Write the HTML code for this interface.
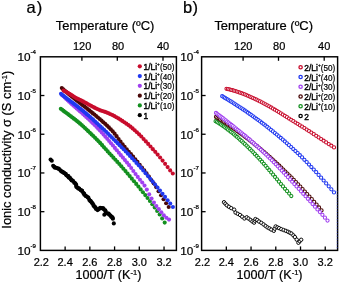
<!DOCTYPE html>
<html><head><meta charset="utf-8"><style>
html,body{margin:0;padding:0;background:#fff;}
svg{display:block;will-change:transform;}
text{font-family:"Liberation Sans",sans-serif;fill:#000;stroke:#000;stroke-width:0.22px;}
</style></head><body>
<svg width="340" height="284" viewBox="0 0 340 284">
<rect width="340" height="284" fill="#fff"/>
<rect x="40.40" y="56.80" width="136.00" height="193.60" fill="none" stroke="#000" stroke-width="1.45"/>
<text x="41.30" y="265.9" font-size="11" text-anchor="middle">2.2</text>
<line x1="65.13" y1="250.40" x2="65.13" y2="246.40" stroke="#000" stroke-width="1.3"/>
<text x="65.13" y="265.9" font-size="11" text-anchor="middle">2.4</text>
<line x1="89.85" y1="250.40" x2="89.85" y2="246.40" stroke="#000" stroke-width="1.3"/>
<text x="89.85" y="265.9" font-size="11" text-anchor="middle">2.6</text>
<line x1="114.58" y1="250.40" x2="114.58" y2="246.40" stroke="#000" stroke-width="1.3"/>
<text x="114.58" y="265.9" font-size="11" text-anchor="middle">2.8</text>
<line x1="139.31" y1="250.40" x2="139.31" y2="246.40" stroke="#000" stroke-width="1.3"/>
<text x="139.31" y="265.9" font-size="11" text-anchor="middle">3.0</text>
<line x1="164.04" y1="250.40" x2="164.04" y2="246.40" stroke="#000" stroke-width="1.3"/>
<text x="164.04" y="265.9" font-size="11" text-anchor="middle">3.2</text>
<line x1="81.90" y1="56.80" x2="81.90" y2="60.80" stroke="#000" stroke-width="1.3"/>
<text x="82.10" y="50.4" font-size="11" text-anchor="middle">120</text>
<line x1="117.30" y1="56.80" x2="117.30" y2="60.80" stroke="#000" stroke-width="1.3"/>
<text x="118.00" y="50.4" font-size="11" text-anchor="middle">80</text>
<line x1="163.00" y1="56.80" x2="163.00" y2="60.80" stroke="#000" stroke-width="1.3"/>
<text x="163.00" y="50.4" font-size="11" text-anchor="middle">40</text>
<text x="36.00" y="61.10" font-size="11.8" text-anchor="end">10<tspan font-size="6.1" dy="-6.8">-4</tspan></text>
<line x1="40.40" y1="95.52" x2="44.40" y2="95.52" stroke="#000" stroke-width="1.3"/>
<text x="36.00" y="99.82" font-size="11.8" text-anchor="end">10<tspan font-size="6.1" dy="-6.8">-5</tspan></text>
<line x1="40.40" y1="134.24" x2="44.40" y2="134.24" stroke="#000" stroke-width="1.3"/>
<text x="36.00" y="138.54" font-size="11.8" text-anchor="end">10<tspan font-size="6.1" dy="-6.8">-6</tspan></text>
<line x1="40.40" y1="172.96" x2="44.40" y2="172.96" stroke="#000" stroke-width="1.3"/>
<text x="36.00" y="177.26" font-size="11.8" text-anchor="end">10<tspan font-size="6.1" dy="-6.8">-7</tspan></text>
<line x1="40.40" y1="211.68" x2="44.40" y2="211.68" stroke="#000" stroke-width="1.3"/>
<text x="36.00" y="215.98" font-size="11.8" text-anchor="end">10<tspan font-size="6.1" dy="-6.8">-8</tspan></text>
<text x="36.00" y="254.70" font-size="11.8" text-anchor="end">10<tspan font-size="6.1" dy="-6.8">-9</tspan></text>
<text x="26.40" y="13.2" font-size="16.5">a<tspan dx="1.2">)</tspan></text>
<text x="55.80" y="29.6" font-size="12.9">Temperature (ºC)</text>
<text x="75.40" y="279.4" font-size="12.6">1000/T (K<tspan font-size="7.5" dy="-4.5">-1</tspan><tspan dy="4.5">)</tspan></text>
<text transform="translate(11.20,228.7) rotate(-90)" font-size="12.9">Ionic conductivity σ (S cm<tspan font-size="7.5" dy="-4.5">-1</tspan><tspan dy="4.5">)</tspan></text>
<circle cx="139.80" cy="66.35" r="2.1" fill="#c80c2c"/>
<text x="143.50" y="69.95" font-size="8.15" style="stroke-width:0.2px"><tspan font-size="8.4" style="stroke-width:0.4px">1/Li</tspan><tspan font-size="4.8" dy="-3.6" dx="0.1">+</tspan><tspan dy="3.6" dx="0.1">(50)</tspan></text>
<circle cx="139.80" cy="76.11" r="2.1" fill="#2038f0"/>
<text x="143.50" y="79.71" font-size="8.15" style="stroke-width:0.2px"><tspan font-size="8.4" style="stroke-width:0.4px">1/Li</tspan><tspan font-size="4.8" dy="-3.6" dx="0.1">+</tspan><tspan dy="3.6" dx="0.1">(40)</tspan></text>
<circle cx="139.80" cy="85.87" r="2.1" fill="#a040f0"/>
<text x="143.50" y="89.47" font-size="8.15" style="stroke-width:0.2px"><tspan font-size="8.4" style="stroke-width:0.4px">1/Li</tspan><tspan font-size="4.8" dy="-3.6" dx="0.1">+</tspan><tspan dy="3.6" dx="0.1">(30)</tspan></text>
<circle cx="139.80" cy="95.63" r="2.1" fill="#4a0808"/>
<text x="143.50" y="99.23" font-size="8.15" style="stroke-width:0.2px"><tspan font-size="8.4" style="stroke-width:0.4px">1/Li</tspan><tspan font-size="4.8" dy="-3.6" dx="0.1">+</tspan><tspan dy="3.6" dx="0.1">(20)</tspan></text>
<circle cx="139.80" cy="105.39" r="2.1" fill="#149020"/>
<text x="143.50" y="108.99" font-size="8.15" style="stroke-width:0.2px"><tspan font-size="8.4" style="stroke-width:0.4px">1/Li</tspan><tspan font-size="4.8" dy="-3.6" dx="0.1">+</tspan><tspan dy="3.6" dx="0.1">(10)</tspan></text>
<circle cx="139.80" cy="115.15" r="2.1" fill="#000000"/>
<text x="143.50" y="118.75" font-size="8.4" style="stroke-width:0.4px">1</text>
<rect x="201.60" y="56.80" width="136.00" height="193.60" fill="none" stroke="#000" stroke-width="1.45"/>
<text x="202.50" y="265.9" font-size="11" text-anchor="middle">2.2</text>
<line x1="226.33" y1="250.40" x2="226.33" y2="246.40" stroke="#000" stroke-width="1.3"/>
<text x="226.33" y="265.9" font-size="11" text-anchor="middle">2.4</text>
<line x1="251.05" y1="250.40" x2="251.05" y2="246.40" stroke="#000" stroke-width="1.3"/>
<text x="251.05" y="265.9" font-size="11" text-anchor="middle">2.6</text>
<line x1="275.78" y1="250.40" x2="275.78" y2="246.40" stroke="#000" stroke-width="1.3"/>
<text x="275.78" y="265.9" font-size="11" text-anchor="middle">2.8</text>
<line x1="300.51" y1="250.40" x2="300.51" y2="246.40" stroke="#000" stroke-width="1.3"/>
<text x="300.51" y="265.9" font-size="11" text-anchor="middle">3.0</text>
<line x1="325.24" y1="250.40" x2="325.24" y2="246.40" stroke="#000" stroke-width="1.3"/>
<text x="325.24" y="265.9" font-size="11" text-anchor="middle">3.2</text>
<line x1="243.10" y1="56.80" x2="243.10" y2="60.80" stroke="#000" stroke-width="1.3"/>
<text x="243.30" y="50.4" font-size="11" text-anchor="middle">120</text>
<line x1="278.50" y1="56.80" x2="278.50" y2="60.80" stroke="#000" stroke-width="1.3"/>
<text x="279.20" y="50.4" font-size="11" text-anchor="middle">80</text>
<line x1="324.20" y1="56.80" x2="324.20" y2="60.80" stroke="#000" stroke-width="1.3"/>
<text x="324.20" y="50.4" font-size="11" text-anchor="middle">40</text>
<text x="198.80" y="61.10" font-size="11.8" text-anchor="end">10<tspan font-size="6.1" dy="-6.8">-4</tspan></text>
<line x1="201.60" y1="95.52" x2="205.60" y2="95.52" stroke="#000" stroke-width="1.3"/>
<text x="198.80" y="99.82" font-size="11.8" text-anchor="end">10<tspan font-size="6.1" dy="-6.8">-5</tspan></text>
<line x1="201.60" y1="134.24" x2="205.60" y2="134.24" stroke="#000" stroke-width="1.3"/>
<text x="198.80" y="138.54" font-size="11.8" text-anchor="end">10<tspan font-size="6.1" dy="-6.8">-6</tspan></text>
<line x1="201.60" y1="172.96" x2="205.60" y2="172.96" stroke="#000" stroke-width="1.3"/>
<text x="198.80" y="177.26" font-size="11.8" text-anchor="end">10<tspan font-size="6.1" dy="-6.8">-7</tspan></text>
<line x1="201.60" y1="211.68" x2="205.60" y2="211.68" stroke="#000" stroke-width="1.3"/>
<text x="198.80" y="215.98" font-size="11.8" text-anchor="end">10<tspan font-size="6.1" dy="-6.8">-8</tspan></text>
<text x="198.80" y="254.70" font-size="11.8" text-anchor="end">10<tspan font-size="6.1" dy="-6.8">-9</tspan></text>
<text x="183.00" y="13.2" font-size="16.5">b<tspan dx="0.2">)</tspan></text>
<text x="214.40" y="29.6" font-size="12.9">Temperature (ºC)</text>
<text x="236.60" y="279.4" font-size="12.6">1000/T (K<tspan font-size="7.5" dy="-4.5">-1</tspan><tspan dy="4.5">)</tspan></text>
<circle cx="300.60" cy="67.25" r="1.65" fill="#fff" stroke="#c80c2c" stroke-width="1.3"/>
<text x="304.30" y="70.85" font-size="8.15" style="stroke-width:0.2px"><tspan font-size="8.4" style="stroke-width:0.4px">2/Li</tspan><tspan font-size="4.8" dy="-3.6" dx="0.1">+</tspan><tspan dy="3.6" dx="0.1">(50)</tspan></text>
<circle cx="300.60" cy="77.01" r="1.65" fill="#fff" stroke="#2038f0" stroke-width="1.3"/>
<text x="304.30" y="80.61" font-size="8.15" style="stroke-width:0.2px"><tspan font-size="8.4" style="stroke-width:0.4px">2/Li</tspan><tspan font-size="4.8" dy="-3.6" dx="0.1">+</tspan><tspan dy="3.6" dx="0.1">(40)</tspan></text>
<circle cx="300.60" cy="86.77" r="1.65" fill="#fff" stroke="#a040f0" stroke-width="1.3"/>
<text x="304.30" y="90.37" font-size="8.15" style="stroke-width:0.2px"><tspan font-size="8.4" style="stroke-width:0.4px">2/Li</tspan><tspan font-size="4.8" dy="-3.6" dx="0.1">+</tspan><tspan dy="3.6" dx="0.1">(30)</tspan></text>
<circle cx="300.60" cy="96.53" r="1.65" fill="#fff" stroke="#4a0808" stroke-width="1.3"/>
<text x="304.30" y="100.13" font-size="8.15" style="stroke-width:0.2px"><tspan font-size="8.4" style="stroke-width:0.4px">2/Li</tspan><tspan font-size="4.8" dy="-3.6" dx="0.1">+</tspan><tspan dy="3.6" dx="0.1">(20)</tspan></text>
<circle cx="300.60" cy="106.29" r="1.65" fill="#fff" stroke="#149020" stroke-width="1.3"/>
<text x="304.30" y="109.89" font-size="8.15" style="stroke-width:0.2px"><tspan font-size="8.4" style="stroke-width:0.4px">2/Li</tspan><tspan font-size="4.8" dy="-3.6" dx="0.1">+</tspan><tspan dy="3.6" dx="0.1">(10)</tspan></text>
<circle cx="300.60" cy="116.05" r="1.65" fill="#fff" stroke="#000000" stroke-width="1.3"/>
<text x="304.30" y="119.65" font-size="8.4" style="stroke-width:0.4px">2</text>
<circle cx="60.80" cy="108.77" r="2.05" fill="#149020"/>
<circle cx="62.20" cy="109.82" r="2.05" fill="#149020"/>
<circle cx="63.61" cy="110.88" r="2.05" fill="#149020"/>
<circle cx="65.04" cy="111.95" r="2.05" fill="#149020"/>
<circle cx="66.48" cy="113.03" r="2.05" fill="#149020"/>
<circle cx="67.94" cy="114.12" r="2.05" fill="#149020"/>
<circle cx="69.41" cy="115.22" r="2.05" fill="#149020"/>
<circle cx="70.89" cy="116.35" r="2.05" fill="#149020"/>
<circle cx="72.39" cy="117.49" r="2.05" fill="#149020"/>
<circle cx="73.91" cy="118.66" r="2.05" fill="#149020"/>
<circle cx="75.44" cy="119.86" r="2.05" fill="#149020"/>
<circle cx="76.98" cy="121.09" r="2.05" fill="#149020"/>
<circle cx="78.54" cy="122.35" r="2.05" fill="#149020"/>
<circle cx="80.12" cy="123.67" r="2.05" fill="#149020"/>
<circle cx="81.71" cy="125.05" r="2.05" fill="#149020"/>
<circle cx="83.32" cy="126.49" r="2.05" fill="#149020"/>
<circle cx="84.94" cy="127.98" r="2.05" fill="#149020"/>
<circle cx="86.58" cy="129.53" r="2.05" fill="#149020"/>
<circle cx="88.24" cy="131.14" r="2.05" fill="#149020"/>
<circle cx="89.92" cy="132.76" r="2.05" fill="#149020"/>
<circle cx="91.61" cy="134.38" r="2.05" fill="#149020"/>
<circle cx="93.33" cy="136.01" r="2.05" fill="#149020"/>
<circle cx="95.06" cy="137.70" r="2.05" fill="#149020"/>
<circle cx="96.81" cy="139.45" r="2.05" fill="#149020"/>
<circle cx="98.57" cy="141.26" r="2.05" fill="#149020"/>
<circle cx="100.36" cy="143.15" r="2.05" fill="#149020"/>
<circle cx="102.17" cy="145.14" r="2.05" fill="#149020"/>
<circle cx="103.99" cy="147.21" r="2.05" fill="#149020"/>
<circle cx="105.84" cy="149.28" r="2.05" fill="#149020"/>
<circle cx="107.70" cy="151.38" r="2.05" fill="#149020"/>
<circle cx="109.59" cy="153.49" r="2.05" fill="#149020"/>
<circle cx="111.50" cy="155.57" r="2.05" fill="#149020"/>
<circle cx="113.43" cy="157.64" r="2.05" fill="#149020"/>
<circle cx="115.38" cy="159.74" r="2.05" fill="#149020"/>
<circle cx="117.36" cy="161.88" r="2.05" fill="#149020"/>
<circle cx="119.35" cy="164.07" r="2.05" fill="#149020"/>
<circle cx="121.37" cy="166.35" r="2.05" fill="#149020"/>
<circle cx="123.41" cy="168.71" r="2.05" fill="#149020"/>
<circle cx="125.48" cy="171.12" r="2.05" fill="#149020"/>
<circle cx="127.57" cy="173.60" r="2.05" fill="#149020"/>
<circle cx="129.69" cy="176.12" r="2.05" fill="#149020"/>
<circle cx="131.83" cy="178.66" r="2.05" fill="#149020"/>
<circle cx="133.99" cy="181.25" r="2.05" fill="#149020"/>
<circle cx="136.19" cy="183.90" r="2.05" fill="#149020"/>
<circle cx="138.40" cy="186.61" r="2.05" fill="#149020"/>
<circle cx="140.65" cy="189.38" r="2.05" fill="#149020"/>
<circle cx="142.92" cy="192.21" r="2.05" fill="#149020"/>
<circle cx="145.22" cy="195.10" r="2.05" fill="#149020"/>
<circle cx="147.55" cy="198.04" r="2.05" fill="#149020"/>
<circle cx="149.91" cy="201.06" r="2.05" fill="#149020"/>
<circle cx="152.30" cy="204.21" r="2.05" fill="#149020"/>
<circle cx="154.72" cy="207.49" r="2.05" fill="#149020"/>
<circle cx="157.16" cy="210.90" r="2.05" fill="#149020"/>
<circle cx="159.64" cy="214.50" r="2.05" fill="#149020"/>
<circle cx="162.16" cy="218.41" r="2.05" fill="#149020"/>
<circle cx="164.70" cy="222.61" r="2.05" fill="#149020"/>
<circle cx="61.80" cy="88.06" r="2.05" fill="#4a0808"/>
<circle cx="63.21" cy="89.30" r="2.05" fill="#4a0808"/>
<circle cx="64.63" cy="90.54" r="2.05" fill="#4a0808"/>
<circle cx="66.06" cy="91.76" r="2.05" fill="#4a0808"/>
<circle cx="67.51" cy="92.99" r="2.05" fill="#4a0808"/>
<circle cx="68.97" cy="94.21" r="2.05" fill="#4a0808"/>
<circle cx="70.44" cy="95.42" r="2.05" fill="#4a0808"/>
<circle cx="71.93" cy="96.64" r="2.05" fill="#4a0808"/>
<circle cx="73.44" cy="97.86" r="2.05" fill="#4a0808"/>
<circle cx="74.96" cy="99.08" r="2.05" fill="#4a0808"/>
<circle cx="76.49" cy="100.30" r="2.05" fill="#4a0808"/>
<circle cx="78.04" cy="101.52" r="2.05" fill="#4a0808"/>
<circle cx="79.61" cy="102.75" r="2.05" fill="#4a0808"/>
<circle cx="81.19" cy="104.00" r="2.05" fill="#4a0808"/>
<circle cx="82.79" cy="105.25" r="2.05" fill="#4a0808"/>
<circle cx="84.40" cy="106.51" r="2.05" fill="#4a0808"/>
<circle cx="86.04" cy="107.80" r="2.05" fill="#4a0808"/>
<circle cx="87.68" cy="109.10" r="2.05" fill="#4a0808"/>
<circle cx="89.35" cy="110.42" r="2.05" fill="#4a0808"/>
<circle cx="91.03" cy="111.77" r="2.05" fill="#4a0808"/>
<circle cx="92.73" cy="113.15" r="2.05" fill="#4a0808"/>
<circle cx="94.45" cy="114.56" r="2.05" fill="#4a0808"/>
<circle cx="96.19" cy="116.00" r="2.05" fill="#4a0808"/>
<circle cx="97.94" cy="117.48" r="2.05" fill="#4a0808"/>
<circle cx="99.72" cy="119.01" r="2.05" fill="#4a0808"/>
<circle cx="101.51" cy="120.58" r="2.05" fill="#4a0808"/>
<circle cx="103.33" cy="122.19" r="2.05" fill="#4a0808"/>
<circle cx="105.16" cy="123.87" r="2.05" fill="#4a0808"/>
<circle cx="107.01" cy="125.58" r="2.05" fill="#4a0808"/>
<circle cx="108.89" cy="127.36" r="2.05" fill="#4a0808"/>
<circle cx="110.78" cy="129.29" r="2.05" fill="#4a0808"/>
<circle cx="112.70" cy="131.37" r="2.05" fill="#4a0808"/>
<circle cx="114.64" cy="133.63" r="2.05" fill="#4a0808"/>
<circle cx="116.59" cy="136.17" r="2.05" fill="#4a0808"/>
<circle cx="118.58" cy="138.96" r="2.05" fill="#4a0808"/>
<circle cx="120.58" cy="141.67" r="2.05" fill="#4a0808"/>
<circle cx="122.61" cy="144.26" r="2.05" fill="#4a0808"/>
<circle cx="124.66" cy="146.80" r="2.05" fill="#4a0808"/>
<circle cx="126.73" cy="149.26" r="2.05" fill="#4a0808"/>
<circle cx="128.83" cy="151.68" r="2.05" fill="#4a0808"/>
<circle cx="130.96" cy="154.14" r="2.05" fill="#4a0808"/>
<circle cx="133.11" cy="156.64" r="2.05" fill="#4a0808"/>
<circle cx="135.28" cy="159.22" r="2.05" fill="#4a0808"/>
<circle cx="137.48" cy="161.91" r="2.05" fill="#4a0808"/>
<circle cx="139.71" cy="164.68" r="2.05" fill="#4a0808"/>
<circle cx="141.96" cy="167.48" r="2.05" fill="#4a0808"/>
<circle cx="144.25" cy="170.35" r="2.05" fill="#4a0808"/>
<circle cx="146.56" cy="173.40" r="2.05" fill="#4a0808"/>
<circle cx="148.90" cy="176.61" r="2.05" fill="#4a0808"/>
<circle cx="151.26" cy="179.93" r="2.05" fill="#4a0808"/>
<circle cx="153.66" cy="183.37" r="2.05" fill="#4a0808"/>
<circle cx="156.09" cy="187.12" r="2.05" fill="#4a0808"/>
<circle cx="158.55" cy="191.24" r="2.05" fill="#4a0808"/>
<circle cx="161.04" cy="195.31" r="2.05" fill="#4a0808"/>
<circle cx="163.56" cy="199.31" r="2.05" fill="#4a0808"/>
<circle cx="166.11" cy="203.19" r="2.05" fill="#4a0808"/>
<circle cx="168.70" cy="206.93" r="2.05" fill="#4a0808"/>
<circle cx="62.00" cy="94.97" r="2.05" fill="#a040f0"/>
<circle cx="63.41" cy="96.26" r="2.05" fill="#a040f0"/>
<circle cx="64.83" cy="97.58" r="2.05" fill="#a040f0"/>
<circle cx="66.26" cy="98.94" r="2.05" fill="#a040f0"/>
<circle cx="67.71" cy="100.33" r="2.05" fill="#a040f0"/>
<circle cx="69.17" cy="101.73" r="2.05" fill="#a040f0"/>
<circle cx="70.65" cy="103.10" r="2.05" fill="#a040f0"/>
<circle cx="72.14" cy="104.44" r="2.05" fill="#a040f0"/>
<circle cx="73.65" cy="105.78" r="2.05" fill="#a040f0"/>
<circle cx="75.17" cy="107.12" r="2.05" fill="#a040f0"/>
<circle cx="76.71" cy="108.45" r="2.05" fill="#a040f0"/>
<circle cx="78.26" cy="109.79" r="2.05" fill="#a040f0"/>
<circle cx="79.82" cy="111.16" r="2.05" fill="#a040f0"/>
<circle cx="81.41" cy="112.56" r="2.05" fill="#a040f0"/>
<circle cx="83.01" cy="113.98" r="2.05" fill="#a040f0"/>
<circle cx="84.62" cy="115.45" r="2.05" fill="#a040f0"/>
<circle cx="86.26" cy="116.94" r="2.05" fill="#a040f0"/>
<circle cx="87.91" cy="118.48" r="2.05" fill="#a040f0"/>
<circle cx="89.57" cy="120.05" r="2.05" fill="#a040f0"/>
<circle cx="91.26" cy="121.67" r="2.05" fill="#a040f0"/>
<circle cx="92.96" cy="123.34" r="2.05" fill="#a040f0"/>
<circle cx="94.68" cy="125.06" r="2.05" fill="#a040f0"/>
<circle cx="96.42" cy="126.83" r="2.05" fill="#a040f0"/>
<circle cx="98.18" cy="128.66" r="2.05" fill="#a040f0"/>
<circle cx="99.95" cy="130.55" r="2.05" fill="#a040f0"/>
<circle cx="101.75" cy="132.53" r="2.05" fill="#a040f0"/>
<circle cx="103.56" cy="134.58" r="2.05" fill="#a040f0"/>
<circle cx="105.40" cy="136.68" r="2.05" fill="#a040f0"/>
<circle cx="107.25" cy="138.83" r="2.05" fill="#a040f0"/>
<circle cx="109.13" cy="141.03" r="2.05" fill="#a040f0"/>
<circle cx="111.03" cy="143.28" r="2.05" fill="#a040f0"/>
<circle cx="112.94" cy="145.57" r="2.05" fill="#a040f0"/>
<circle cx="114.88" cy="147.90" r="2.05" fill="#a040f0"/>
<circle cx="116.84" cy="150.27" r="2.05" fill="#a040f0"/>
<circle cx="118.83" cy="152.68" r="2.05" fill="#a040f0"/>
<circle cx="120.83" cy="155.13" r="2.05" fill="#a040f0"/>
<circle cx="122.86" cy="157.60" r="2.05" fill="#a040f0"/>
<circle cx="124.92" cy="160.11" r="2.05" fill="#a040f0"/>
<circle cx="126.99" cy="162.61" r="2.05" fill="#a040f0"/>
<circle cx="129.09" cy="165.16" r="2.05" fill="#a040f0"/>
<circle cx="131.22" cy="167.98" r="2.05" fill="#a040f0"/>
<circle cx="133.37" cy="171.07" r="2.05" fill="#a040f0"/>
<circle cx="135.55" cy="174.07" r="2.05" fill="#a040f0"/>
<circle cx="137.75" cy="176.90" r="2.05" fill="#a040f0"/>
<circle cx="139.98" cy="179.74" r="2.05" fill="#a040f0"/>
<circle cx="142.24" cy="182.54" r="2.05" fill="#a040f0"/>
<circle cx="144.52" cy="185.58" r="2.05" fill="#a040f0"/>
<circle cx="146.83" cy="189.62" r="2.05" fill="#a040f0"/>
<circle cx="149.18" cy="194.36" r="2.05" fill="#a040f0"/>
<circle cx="151.55" cy="198.58" r="2.05" fill="#a040f0"/>
<circle cx="153.95" cy="202.49" r="2.05" fill="#a040f0"/>
<circle cx="156.38" cy="205.98" r="2.05" fill="#a040f0"/>
<circle cx="158.84" cy="209.13" r="2.05" fill="#a040f0"/>
<circle cx="161.33" cy="212.28" r="2.05" fill="#a040f0"/>
<circle cx="163.85" cy="215.39" r="2.05" fill="#a040f0"/>
<circle cx="166.41" cy="217.80" r="2.05" fill="#a040f0"/>
<circle cx="169.00" cy="219.61" r="2.05" fill="#a040f0"/>
<circle cx="61.00" cy="93.83" r="2.05" fill="#2038f0"/>
<circle cx="62.40" cy="94.95" r="2.05" fill="#2038f0"/>
<circle cx="63.82" cy="96.07" r="2.05" fill="#2038f0"/>
<circle cx="65.25" cy="97.19" r="2.05" fill="#2038f0"/>
<circle cx="66.69" cy="98.33" r="2.05" fill="#2038f0"/>
<circle cx="68.15" cy="99.46" r="2.05" fill="#2038f0"/>
<circle cx="69.62" cy="100.59" r="2.05" fill="#2038f0"/>
<circle cx="71.11" cy="101.70" r="2.05" fill="#2038f0"/>
<circle cx="72.61" cy="102.80" r="2.05" fill="#2038f0"/>
<circle cx="74.12" cy="103.90" r="2.05" fill="#2038f0"/>
<circle cx="75.65" cy="105.06" r="2.05" fill="#2038f0"/>
<circle cx="77.20" cy="106.25" r="2.05" fill="#2038f0"/>
<circle cx="78.76" cy="107.48" r="2.05" fill="#2038f0"/>
<circle cx="80.34" cy="108.73" r="2.05" fill="#2038f0"/>
<circle cx="81.94" cy="110.03" r="2.05" fill="#2038f0"/>
<circle cx="83.55" cy="111.36" r="2.05" fill="#2038f0"/>
<circle cx="85.17" cy="112.73" r="2.05" fill="#2038f0"/>
<circle cx="86.82" cy="114.13" r="2.05" fill="#2038f0"/>
<circle cx="88.48" cy="115.57" r="2.05" fill="#2038f0"/>
<circle cx="90.16" cy="117.04" r="2.05" fill="#2038f0"/>
<circle cx="91.86" cy="118.55" r="2.05" fill="#2038f0"/>
<circle cx="93.57" cy="120.10" r="2.05" fill="#2038f0"/>
<circle cx="95.30" cy="121.68" r="2.05" fill="#2038f0"/>
<circle cx="97.05" cy="123.31" r="2.05" fill="#2038f0"/>
<circle cx="98.82" cy="124.97" r="2.05" fill="#2038f0"/>
<circle cx="100.61" cy="126.64" r="2.05" fill="#2038f0"/>
<circle cx="102.42" cy="128.33" r="2.05" fill="#2038f0"/>
<circle cx="104.25" cy="130.04" r="2.05" fill="#2038f0"/>
<circle cx="106.10" cy="131.80" r="2.05" fill="#2038f0"/>
<circle cx="107.97" cy="133.60" r="2.05" fill="#2038f0"/>
<circle cx="109.86" cy="135.44" r="2.05" fill="#2038f0"/>
<circle cx="111.77" cy="137.31" r="2.05" fill="#2038f0"/>
<circle cx="113.70" cy="139.21" r="2.05" fill="#2038f0"/>
<circle cx="115.66" cy="141.14" r="2.05" fill="#2038f0"/>
<circle cx="117.63" cy="143.13" r="2.05" fill="#2038f0"/>
<circle cx="119.63" cy="145.15" r="2.05" fill="#2038f0"/>
<circle cx="121.66" cy="147.21" r="2.05" fill="#2038f0"/>
<circle cx="123.70" cy="149.31" r="2.05" fill="#2038f0"/>
<circle cx="125.77" cy="151.46" r="2.05" fill="#2038f0"/>
<circle cx="127.87" cy="153.66" r="2.05" fill="#2038f0"/>
<circle cx="129.98" cy="155.90" r="2.05" fill="#2038f0"/>
<circle cx="132.13" cy="158.19" r="2.05" fill="#2038f0"/>
<circle cx="134.30" cy="160.52" r="2.05" fill="#2038f0"/>
<circle cx="136.49" cy="162.90" r="2.05" fill="#2038f0"/>
<circle cx="138.72" cy="165.33" r="2.05" fill="#2038f0"/>
<circle cx="140.96" cy="167.86" r="2.05" fill="#2038f0"/>
<circle cx="143.24" cy="170.49" r="2.05" fill="#2038f0"/>
<circle cx="145.55" cy="173.19" r="2.05" fill="#2038f0"/>
<circle cx="147.88" cy="175.93" r="2.05" fill="#2038f0"/>
<circle cx="150.24" cy="178.74" r="2.05" fill="#2038f0"/>
<circle cx="152.63" cy="181.60" r="2.05" fill="#2038f0"/>
<circle cx="155.05" cy="184.54" r="2.05" fill="#2038f0"/>
<circle cx="157.51" cy="187.53" r="2.05" fill="#2038f0"/>
<circle cx="159.99" cy="190.59" r="2.05" fill="#2038f0"/>
<circle cx="162.51" cy="193.72" r="2.05" fill="#2038f0"/>
<circle cx="165.05" cy="196.92" r="2.05" fill="#2038f0"/>
<circle cx="167.64" cy="200.19" r="2.05" fill="#2038f0"/>
<circle cx="170.25" cy="203.53" r="2.05" fill="#2038f0"/>
<circle cx="172.90" cy="206.95" r="2.05" fill="#2038f0"/>
<circle cx="63.60" cy="90.60" r="2.05" fill="#c80c2c"/>
<circle cx="65.01" cy="91.28" r="2.05" fill="#c80c2c"/>
<circle cx="66.42" cy="92.04" r="2.05" fill="#c80c2c"/>
<circle cx="67.86" cy="92.85" r="2.05" fill="#c80c2c"/>
<circle cx="69.30" cy="93.70" r="2.05" fill="#c80c2c"/>
<circle cx="70.76" cy="94.59" r="2.05" fill="#c80c2c"/>
<circle cx="72.24" cy="95.56" r="2.05" fill="#c80c2c"/>
<circle cx="73.73" cy="96.53" r="2.05" fill="#c80c2c"/>
<circle cx="75.23" cy="97.44" r="2.05" fill="#c80c2c"/>
<circle cx="76.75" cy="98.26" r="2.05" fill="#c80c2c"/>
<circle cx="78.28" cy="99.03" r="2.05" fill="#c80c2c"/>
<circle cx="79.83" cy="99.81" r="2.05" fill="#c80c2c"/>
<circle cx="81.39" cy="100.60" r="2.05" fill="#c80c2c"/>
<circle cx="82.97" cy="101.39" r="2.05" fill="#c80c2c"/>
<circle cx="84.57" cy="102.20" r="2.05" fill="#c80c2c"/>
<circle cx="86.18" cy="103.08" r="2.05" fill="#c80c2c"/>
<circle cx="87.81" cy="104.03" r="2.05" fill="#c80c2c"/>
<circle cx="89.46" cy="104.97" r="2.05" fill="#c80c2c"/>
<circle cx="91.12" cy="105.87" r="2.05" fill="#c80c2c"/>
<circle cx="92.80" cy="106.76" r="2.05" fill="#c80c2c"/>
<circle cx="94.50" cy="107.63" r="2.05" fill="#c80c2c"/>
<circle cx="96.21" cy="108.48" r="2.05" fill="#c80c2c"/>
<circle cx="97.95" cy="109.31" r="2.05" fill="#c80c2c"/>
<circle cx="99.70" cy="110.08" r="2.05" fill="#c80c2c"/>
<circle cx="101.47" cy="110.72" r="2.05" fill="#c80c2c"/>
<circle cx="103.26" cy="111.29" r="2.05" fill="#c80c2c"/>
<circle cx="105.07" cy="111.90" r="2.05" fill="#c80c2c"/>
<circle cx="106.90" cy="112.60" r="2.05" fill="#c80c2c"/>
<circle cx="108.75" cy="113.36" r="2.05" fill="#c80c2c"/>
<circle cx="110.61" cy="114.19" r="2.05" fill="#c80c2c"/>
<circle cx="112.50" cy="115.11" r="2.05" fill="#c80c2c"/>
<circle cx="114.42" cy="116.10" r="2.05" fill="#c80c2c"/>
<circle cx="116.35" cy="117.18" r="2.05" fill="#c80c2c"/>
<circle cx="118.30" cy="118.34" r="2.05" fill="#c80c2c"/>
<circle cx="120.28" cy="119.58" r="2.05" fill="#c80c2c"/>
<circle cx="122.28" cy="120.88" r="2.05" fill="#c80c2c"/>
<circle cx="124.30" cy="122.26" r="2.05" fill="#c80c2c"/>
<circle cx="126.34" cy="123.65" r="2.05" fill="#c80c2c"/>
<circle cx="128.41" cy="125.08" r="2.05" fill="#c80c2c"/>
<circle cx="130.50" cy="126.64" r="2.05" fill="#c80c2c"/>
<circle cx="132.62" cy="128.38" r="2.05" fill="#c80c2c"/>
<circle cx="134.76" cy="130.24" r="2.05" fill="#c80c2c"/>
<circle cx="136.93" cy="132.22" r="2.05" fill="#c80c2c"/>
<circle cx="139.12" cy="134.33" r="2.05" fill="#c80c2c"/>
<circle cx="141.34" cy="136.56" r="2.05" fill="#c80c2c"/>
<circle cx="143.58" cy="138.94" r="2.05" fill="#c80c2c"/>
<circle cx="145.85" cy="141.38" r="2.05" fill="#c80c2c"/>
<circle cx="148.15" cy="143.90" r="2.05" fill="#c80c2c"/>
<circle cx="150.48" cy="146.48" r="2.05" fill="#c80c2c"/>
<circle cx="152.84" cy="149.13" r="2.05" fill="#c80c2c"/>
<circle cx="155.23" cy="151.85" r="2.05" fill="#c80c2c"/>
<circle cx="157.64" cy="154.62" r="2.05" fill="#c80c2c"/>
<circle cx="160.09" cy="157.51" r="2.05" fill="#c80c2c"/>
<circle cx="162.57" cy="160.62" r="2.05" fill="#c80c2c"/>
<circle cx="165.08" cy="163.84" r="2.05" fill="#c80c2c"/>
<circle cx="167.62" cy="167.12" r="2.05" fill="#c80c2c"/>
<circle cx="170.19" cy="170.38" r="2.05" fill="#c80c2c"/>
<circle cx="172.80" cy="173.50" r="2.05" fill="#c80c2c"/>
<circle cx="50.60" cy="159.60" r="2.05" fill="#000"/>
<circle cx="51.80" cy="160.80" r="2.05" fill="#000"/>
<circle cx="53.20" cy="165.80" r="2.1" fill="#000"/>
<circle cx="54.26" cy="166.96" r="2.1" fill="#000"/>
<circle cx="54.98" cy="167.70" r="2.1" fill="#000"/>
<circle cx="56.28" cy="167.83" r="2.1" fill="#000"/>
<circle cx="57.89" cy="168.42" r="2.1" fill="#000"/>
<circle cx="58.94" cy="168.97" r="2.1" fill="#000"/>
<circle cx="60.43" cy="170.33" r="2.1" fill="#000"/>
<circle cx="61.40" cy="171.41" r="2.1" fill="#000"/>
<circle cx="62.72" cy="171.96" r="2.1" fill="#000"/>
<circle cx="63.44" cy="172.61" r="2.1" fill="#000"/>
<circle cx="64.37" cy="173.19" r="2.1" fill="#000"/>
<circle cx="65.73" cy="173.90" r="2.1" fill="#000"/>
<circle cx="66.39" cy="175.30" r="2.1" fill="#000"/>
<circle cx="67.72" cy="175.84" r="2.1" fill="#000"/>
<circle cx="68.24" cy="176.20" r="2.1" fill="#000"/>
<circle cx="68.69" cy="177.62" r="2.1" fill="#000"/>
<circle cx="69.81" cy="177.65" r="2.1" fill="#000"/>
<circle cx="70.71" cy="179.05" r="2.1" fill="#000"/>
<circle cx="71.50" cy="179.98" r="2.1" fill="#000"/>
<circle cx="71.79" cy="180.43" r="2.1" fill="#000"/>
<circle cx="72.96" cy="180.81" r="2.1" fill="#000"/>
<circle cx="74.23" cy="182.67" r="2.1" fill="#000"/>
<circle cx="75.28" cy="183.28" r="2.1" fill="#000"/>
<circle cx="76.04" cy="184.61" r="2.1" fill="#000"/>
<circle cx="76.28" cy="185.93" r="2.1" fill="#000"/>
<circle cx="76.48" cy="187.09" r="2.1" fill="#000"/>
<circle cx="77.86" cy="187.79" r="2.1" fill="#000"/>
<circle cx="78.32" cy="188.54" r="2.1" fill="#000"/>
<circle cx="79.22" cy="188.62" r="2.1" fill="#000"/>
<circle cx="80.75" cy="190.13" r="2.1" fill="#000"/>
<circle cx="81.71" cy="190.57" r="2.1" fill="#000"/>
<circle cx="82.10" cy="190.96" r="2.1" fill="#000"/>
<circle cx="83.18" cy="192.80" r="2.1" fill="#000"/>
<circle cx="84.10" cy="193.60" r="2.1" fill="#000"/>
<circle cx="84.34" cy="194.69" r="2.1" fill="#000"/>
<circle cx="85.67" cy="195.75" r="2.1" fill="#000"/>
<circle cx="85.89" cy="196.08" r="2.1" fill="#000"/>
<circle cx="87.66" cy="197.18" r="2.1" fill="#000"/>
<circle cx="88.48" cy="197.97" r="2.1" fill="#000"/>
<circle cx="89.36" cy="199.88" r="2.1" fill="#000"/>
<circle cx="90.29" cy="200.95" r="2.1" fill="#000"/>
<circle cx="90.94" cy="201.47" r="2.1" fill="#000"/>
<circle cx="91.84" cy="202.64" r="2.1" fill="#000"/>
<circle cx="92.70" cy="203.71" r="2.1" fill="#000"/>
<circle cx="93.49" cy="205.00" r="2.1" fill="#000"/>
<circle cx="93.99" cy="206.24" r="2.1" fill="#000"/>
<circle cx="95.17" cy="207.21" r="2.1" fill="#000"/>
<circle cx="95.56" cy="207.81" r="2.1" fill="#000"/>
<circle cx="96.09" cy="208.93" r="2.1" fill="#000"/>
<circle cx="97.55" cy="210.12" r="2.1" fill="#000"/>
<circle cx="98.84" cy="209.15" r="2.1" fill="#000"/>
<circle cx="100.14" cy="207.84" r="2.1" fill="#000"/>
<circle cx="101.68" cy="208.17" r="2.1" fill="#000"/>
<circle cx="102.98" cy="208.06" r="2.1" fill="#000"/>
<circle cx="103.79" cy="209.13" r="2.1" fill="#000"/>
<circle cx="105.25" cy="210.37" r="2.1" fill="#000"/>
<circle cx="105.58" cy="211.72" r="2.1" fill="#000"/>
<circle cx="107.18" cy="213.44" r="2.1" fill="#000"/>
<circle cx="108.63" cy="213.67" r="2.1" fill="#000"/>
<circle cx="109.39" cy="214.73" r="2.1" fill="#000"/>
<circle cx="110.45" cy="215.56" r="2.1" fill="#000"/>
<circle cx="111.18" cy="216.71" r="2.1" fill="#000"/>
<circle cx="112.10" cy="217.08" r="2.1" fill="#000"/>
<circle cx="112.65" cy="217.88" r="2.1" fill="#000"/>
<circle cx="112.85" cy="218.73" r="2.1" fill="#000"/>
<circle cx="104.30" cy="214.80" r="2.05" fill="#000"/>
<circle cx="113.80" cy="223.40" r="2.05" fill="#000"/>
<circle cx="215.60" cy="121.14" r="1.6" fill="#fff" stroke="#149020" stroke-width="1.05"/>
<circle cx="216.94" cy="121.94" r="1.6" fill="#fff" stroke="#149020" stroke-width="1.05"/>
<circle cx="218.29" cy="122.77" r="1.6" fill="#fff" stroke="#149020" stroke-width="1.05"/>
<circle cx="219.65" cy="123.64" r="1.6" fill="#fff" stroke="#149020" stroke-width="1.05"/>
<circle cx="221.02" cy="124.55" r="1.6" fill="#fff" stroke="#149020" stroke-width="1.05"/>
<circle cx="222.41" cy="125.50" r="1.6" fill="#fff" stroke="#149020" stroke-width="1.05"/>
<circle cx="223.81" cy="126.49" r="1.6" fill="#fff" stroke="#149020" stroke-width="1.05"/>
<circle cx="225.22" cy="127.51" r="1.6" fill="#fff" stroke="#149020" stroke-width="1.05"/>
<circle cx="226.65" cy="128.56" r="1.6" fill="#fff" stroke="#149020" stroke-width="1.05"/>
<circle cx="228.09" cy="129.64" r="1.6" fill="#fff" stroke="#149020" stroke-width="1.05"/>
<circle cx="229.55" cy="130.76" r="1.6" fill="#fff" stroke="#149020" stroke-width="1.05"/>
<circle cx="231.02" cy="131.92" r="1.6" fill="#fff" stroke="#149020" stroke-width="1.05"/>
<circle cx="232.51" cy="133.12" r="1.6" fill="#fff" stroke="#149020" stroke-width="1.05"/>
<circle cx="234.00" cy="134.37" r="1.6" fill="#fff" stroke="#149020" stroke-width="1.05"/>
<circle cx="235.52" cy="135.65" r="1.6" fill="#fff" stroke="#149020" stroke-width="1.05"/>
<circle cx="237.05" cy="136.99" r="1.6" fill="#fff" stroke="#149020" stroke-width="1.05"/>
<circle cx="238.59" cy="138.37" r="1.6" fill="#fff" stroke="#149020" stroke-width="1.05"/>
<circle cx="240.15" cy="139.77" r="1.6" fill="#fff" stroke="#149020" stroke-width="1.05"/>
<circle cx="241.73" cy="141.20" r="1.6" fill="#fff" stroke="#149020" stroke-width="1.05"/>
<circle cx="243.32" cy="142.66" r="1.6" fill="#fff" stroke="#149020" stroke-width="1.05"/>
<circle cx="244.93" cy="144.16" r="1.6" fill="#fff" stroke="#149020" stroke-width="1.05"/>
<circle cx="246.56" cy="145.69" r="1.6" fill="#fff" stroke="#149020" stroke-width="1.05"/>
<circle cx="248.20" cy="147.28" r="1.6" fill="#fff" stroke="#149020" stroke-width="1.05"/>
<circle cx="249.86" cy="148.91" r="1.6" fill="#fff" stroke="#149020" stroke-width="1.05"/>
<circle cx="251.53" cy="150.60" r="1.6" fill="#fff" stroke="#149020" stroke-width="1.05"/>
<circle cx="253.23" cy="152.36" r="1.6" fill="#fff" stroke="#149020" stroke-width="1.05"/>
<circle cx="254.94" cy="154.15" r="1.6" fill="#fff" stroke="#149020" stroke-width="1.05"/>
<circle cx="256.67" cy="155.97" r="1.6" fill="#fff" stroke="#149020" stroke-width="1.05"/>
<circle cx="258.42" cy="157.83" r="1.6" fill="#fff" stroke="#149020" stroke-width="1.05"/>
<circle cx="260.19" cy="159.75" r="1.6" fill="#fff" stroke="#149020" stroke-width="1.05"/>
<circle cx="261.98" cy="161.73" r="1.6" fill="#fff" stroke="#149020" stroke-width="1.05"/>
<circle cx="263.78" cy="163.78" r="1.6" fill="#fff" stroke="#149020" stroke-width="1.05"/>
<circle cx="265.61" cy="165.87" r="1.6" fill="#fff" stroke="#149020" stroke-width="1.05"/>
<circle cx="267.45" cy="168.03" r="1.6" fill="#fff" stroke="#149020" stroke-width="1.05"/>
<circle cx="269.32" cy="170.23" r="1.6" fill="#fff" stroke="#149020" stroke-width="1.05"/>
<circle cx="271.21" cy="172.45" r="1.6" fill="#fff" stroke="#149020" stroke-width="1.05"/>
<circle cx="273.12" cy="174.69" r="1.6" fill="#fff" stroke="#149020" stroke-width="1.05"/>
<circle cx="275.05" cy="176.97" r="1.6" fill="#fff" stroke="#149020" stroke-width="1.05"/>
<circle cx="277.00" cy="179.30" r="1.6" fill="#fff" stroke="#149020" stroke-width="1.05"/>
<circle cx="278.97" cy="181.65" r="1.6" fill="#fff" stroke="#149020" stroke-width="1.05"/>
<circle cx="280.97" cy="184.01" r="1.6" fill="#fff" stroke="#149020" stroke-width="1.05"/>
<circle cx="282.99" cy="186.39" r="1.6" fill="#fff" stroke="#149020" stroke-width="1.05"/>
<circle cx="285.03" cy="188.77" r="1.6" fill="#fff" stroke="#149020" stroke-width="1.05"/>
<circle cx="287.09" cy="191.15" r="1.6" fill="#fff" stroke="#149020" stroke-width="1.05"/>
<circle cx="289.18" cy="193.55" r="1.6" fill="#fff" stroke="#149020" stroke-width="1.05"/>
<circle cx="291.30" cy="196.01" r="1.6" fill="#fff" stroke="#149020" stroke-width="1.05"/>
<circle cx="216.00" cy="116.97" r="1.6" fill="#fff" stroke="#4a0808" stroke-width="1.05"/>
<circle cx="217.34" cy="117.79" r="1.6" fill="#fff" stroke="#4a0808" stroke-width="1.05"/>
<circle cx="218.68" cy="118.62" r="1.6" fill="#fff" stroke="#4a0808" stroke-width="1.05"/>
<circle cx="220.04" cy="119.47" r="1.6" fill="#fff" stroke="#4a0808" stroke-width="1.05"/>
<circle cx="221.42" cy="120.34" r="1.6" fill="#fff" stroke="#4a0808" stroke-width="1.05"/>
<circle cx="222.80" cy="121.22" r="1.6" fill="#fff" stroke="#4a0808" stroke-width="1.05"/>
<circle cx="224.20" cy="122.12" r="1.6" fill="#fff" stroke="#4a0808" stroke-width="1.05"/>
<circle cx="225.62" cy="123.04" r="1.6" fill="#fff" stroke="#4a0808" stroke-width="1.05"/>
<circle cx="227.04" cy="123.98" r="1.6" fill="#fff" stroke="#4a0808" stroke-width="1.05"/>
<circle cx="228.49" cy="124.94" r="1.6" fill="#fff" stroke="#4a0808" stroke-width="1.05"/>
<circle cx="229.94" cy="125.92" r="1.6" fill="#fff" stroke="#4a0808" stroke-width="1.05"/>
<circle cx="231.41" cy="126.92" r="1.6" fill="#fff" stroke="#4a0808" stroke-width="1.05"/>
<circle cx="232.89" cy="127.95" r="1.6" fill="#fff" stroke="#4a0808" stroke-width="1.05"/>
<circle cx="234.39" cy="128.99" r="1.6" fill="#fff" stroke="#4a0808" stroke-width="1.05"/>
<circle cx="235.90" cy="130.06" r="1.6" fill="#fff" stroke="#4a0808" stroke-width="1.05"/>
<circle cx="237.43" cy="131.15" r="1.6" fill="#fff" stroke="#4a0808" stroke-width="1.05"/>
<circle cx="238.97" cy="132.26" r="1.6" fill="#fff" stroke="#4a0808" stroke-width="1.05"/>
<circle cx="240.53" cy="133.39" r="1.6" fill="#fff" stroke="#4a0808" stroke-width="1.05"/>
<circle cx="242.11" cy="134.54" r="1.6" fill="#fff" stroke="#4a0808" stroke-width="1.05"/>
<circle cx="243.70" cy="135.72" r="1.6" fill="#fff" stroke="#4a0808" stroke-width="1.05"/>
<circle cx="245.31" cy="136.93" r="1.6" fill="#fff" stroke="#4a0808" stroke-width="1.05"/>
<circle cx="246.93" cy="138.17" r="1.6" fill="#fff" stroke="#4a0808" stroke-width="1.05"/>
<circle cx="248.57" cy="139.43" r="1.6" fill="#fff" stroke="#4a0808" stroke-width="1.05"/>
<circle cx="250.23" cy="140.72" r="1.6" fill="#fff" stroke="#4a0808" stroke-width="1.05"/>
<circle cx="251.90" cy="142.03" r="1.6" fill="#fff" stroke="#4a0808" stroke-width="1.05"/>
<circle cx="253.59" cy="143.38" r="1.6" fill="#fff" stroke="#4a0808" stroke-width="1.05"/>
<circle cx="255.30" cy="144.76" r="1.6" fill="#fff" stroke="#4a0808" stroke-width="1.05"/>
<circle cx="257.03" cy="146.17" r="1.6" fill="#fff" stroke="#4a0808" stroke-width="1.05"/>
<circle cx="258.78" cy="147.61" r="1.6" fill="#fff" stroke="#4a0808" stroke-width="1.05"/>
<circle cx="260.55" cy="149.08" r="1.6" fill="#fff" stroke="#4a0808" stroke-width="1.05"/>
<circle cx="262.33" cy="150.58" r="1.6" fill="#fff" stroke="#4a0808" stroke-width="1.05"/>
<circle cx="264.13" cy="152.11" r="1.6" fill="#fff" stroke="#4a0808" stroke-width="1.05"/>
<circle cx="265.96" cy="153.68" r="1.6" fill="#fff" stroke="#4a0808" stroke-width="1.05"/>
<circle cx="267.80" cy="155.28" r="1.6" fill="#fff" stroke="#4a0808" stroke-width="1.05"/>
<circle cx="269.66" cy="156.92" r="1.6" fill="#fff" stroke="#4a0808" stroke-width="1.05"/>
<circle cx="271.55" cy="158.60" r="1.6" fill="#fff" stroke="#4a0808" stroke-width="1.05"/>
<circle cx="273.45" cy="160.32" r="1.6" fill="#fff" stroke="#4a0808" stroke-width="1.05"/>
<circle cx="275.38" cy="162.08" r="1.6" fill="#fff" stroke="#4a0808" stroke-width="1.05"/>
<circle cx="277.33" cy="163.88" r="1.6" fill="#fff" stroke="#4a0808" stroke-width="1.05"/>
<circle cx="279.30" cy="165.72" r="1.6" fill="#fff" stroke="#4a0808" stroke-width="1.05"/>
<circle cx="281.29" cy="167.60" r="1.6" fill="#fff" stroke="#4a0808" stroke-width="1.05"/>
<circle cx="283.31" cy="169.53" r="1.6" fill="#fff" stroke="#4a0808" stroke-width="1.05"/>
<circle cx="285.35" cy="171.50" r="1.6" fill="#fff" stroke="#4a0808" stroke-width="1.05"/>
<circle cx="287.41" cy="173.52" r="1.6" fill="#fff" stroke="#4a0808" stroke-width="1.05"/>
<circle cx="289.50" cy="175.58" r="1.6" fill="#fff" stroke="#4a0808" stroke-width="1.05"/>
<circle cx="291.61" cy="177.70" r="1.6" fill="#fff" stroke="#4a0808" stroke-width="1.05"/>
<circle cx="293.75" cy="179.87" r="1.6" fill="#fff" stroke="#4a0808" stroke-width="1.05"/>
<circle cx="295.91" cy="182.09" r="1.6" fill="#fff" stroke="#4a0808" stroke-width="1.05"/>
<circle cx="298.10" cy="184.35" r="1.6" fill="#fff" stroke="#4a0808" stroke-width="1.05"/>
<circle cx="300.31" cy="186.68" r="1.6" fill="#fff" stroke="#4a0808" stroke-width="1.05"/>
<circle cx="302.55" cy="189.06" r="1.6" fill="#fff" stroke="#4a0808" stroke-width="1.05"/>
<circle cx="304.82" cy="191.50" r="1.6" fill="#fff" stroke="#4a0808" stroke-width="1.05"/>
<circle cx="307.11" cy="194.01" r="1.6" fill="#fff" stroke="#4a0808" stroke-width="1.05"/>
<circle cx="309.44" cy="196.57" r="1.6" fill="#fff" stroke="#4a0808" stroke-width="1.05"/>
<circle cx="311.79" cy="199.20" r="1.6" fill="#fff" stroke="#4a0808" stroke-width="1.05"/>
<circle cx="314.17" cy="201.90" r="1.6" fill="#fff" stroke="#4a0808" stroke-width="1.05"/>
<circle cx="316.58" cy="204.66" r="1.6" fill="#fff" stroke="#4a0808" stroke-width="1.05"/>
<circle cx="319.03" cy="207.48" r="1.6" fill="#fff" stroke="#4a0808" stroke-width="1.05"/>
<circle cx="321.50" cy="210.38" r="1.6" fill="#fff" stroke="#4a0808" stroke-width="1.05"/>
<circle cx="216.00" cy="112.98" r="1.6" fill="#fff" stroke="#a040f0" stroke-width="1.05"/>
<circle cx="217.34" cy="114.00" r="1.6" fill="#fff" stroke="#a040f0" stroke-width="1.05"/>
<circle cx="218.70" cy="115.03" r="1.6" fill="#fff" stroke="#a040f0" stroke-width="1.05"/>
<circle cx="220.07" cy="116.07" r="1.6" fill="#fff" stroke="#a040f0" stroke-width="1.05"/>
<circle cx="221.45" cy="117.13" r="1.6" fill="#fff" stroke="#a040f0" stroke-width="1.05"/>
<circle cx="222.85" cy="118.19" r="1.6" fill="#fff" stroke="#a040f0" stroke-width="1.05"/>
<circle cx="224.26" cy="119.28" r="1.6" fill="#fff" stroke="#a040f0" stroke-width="1.05"/>
<circle cx="225.68" cy="120.38" r="1.6" fill="#fff" stroke="#a040f0" stroke-width="1.05"/>
<circle cx="227.12" cy="121.50" r="1.6" fill="#fff" stroke="#a040f0" stroke-width="1.05"/>
<circle cx="228.57" cy="122.63" r="1.6" fill="#fff" stroke="#a040f0" stroke-width="1.05"/>
<circle cx="230.03" cy="123.78" r="1.6" fill="#fff" stroke="#a040f0" stroke-width="1.05"/>
<circle cx="231.51" cy="124.95" r="1.6" fill="#fff" stroke="#a040f0" stroke-width="1.05"/>
<circle cx="233.00" cy="126.14" r="1.6" fill="#fff" stroke="#a040f0" stroke-width="1.05"/>
<circle cx="234.51" cy="127.34" r="1.6" fill="#fff" stroke="#a040f0" stroke-width="1.05"/>
<circle cx="236.04" cy="128.56" r="1.6" fill="#fff" stroke="#a040f0" stroke-width="1.05"/>
<circle cx="237.58" cy="129.78" r="1.6" fill="#fff" stroke="#a040f0" stroke-width="1.05"/>
<circle cx="239.13" cy="131.03" r="1.6" fill="#fff" stroke="#a040f0" stroke-width="1.05"/>
<circle cx="240.70" cy="132.30" r="1.6" fill="#fff" stroke="#a040f0" stroke-width="1.05"/>
<circle cx="242.29" cy="133.58" r="1.6" fill="#fff" stroke="#a040f0" stroke-width="1.05"/>
<circle cx="243.89" cy="134.89" r="1.6" fill="#fff" stroke="#a040f0" stroke-width="1.05"/>
<circle cx="245.51" cy="136.23" r="1.6" fill="#fff" stroke="#a040f0" stroke-width="1.05"/>
<circle cx="247.14" cy="137.59" r="1.6" fill="#fff" stroke="#a040f0" stroke-width="1.05"/>
<circle cx="248.80" cy="138.98" r="1.6" fill="#fff" stroke="#a040f0" stroke-width="1.05"/>
<circle cx="250.47" cy="140.40" r="1.6" fill="#fff" stroke="#a040f0" stroke-width="1.05"/>
<circle cx="252.15" cy="141.87" r="1.6" fill="#fff" stroke="#a040f0" stroke-width="1.05"/>
<circle cx="253.86" cy="143.38" r="1.6" fill="#fff" stroke="#a040f0" stroke-width="1.05"/>
<circle cx="255.58" cy="144.92" r="1.6" fill="#fff" stroke="#a040f0" stroke-width="1.05"/>
<circle cx="257.33" cy="146.49" r="1.6" fill="#fff" stroke="#a040f0" stroke-width="1.05"/>
<circle cx="259.09" cy="148.09" r="1.6" fill="#fff" stroke="#a040f0" stroke-width="1.05"/>
<circle cx="260.87" cy="149.73" r="1.6" fill="#fff" stroke="#a040f0" stroke-width="1.05"/>
<circle cx="262.67" cy="151.40" r="1.6" fill="#fff" stroke="#a040f0" stroke-width="1.05"/>
<circle cx="264.48" cy="153.11" r="1.6" fill="#fff" stroke="#a040f0" stroke-width="1.05"/>
<circle cx="266.32" cy="154.86" r="1.6" fill="#fff" stroke="#a040f0" stroke-width="1.05"/>
<circle cx="268.18" cy="156.65" r="1.6" fill="#fff" stroke="#a040f0" stroke-width="1.05"/>
<circle cx="270.06" cy="158.48" r="1.6" fill="#fff" stroke="#a040f0" stroke-width="1.05"/>
<circle cx="271.96" cy="160.36" r="1.6" fill="#fff" stroke="#a040f0" stroke-width="1.05"/>
<circle cx="273.89" cy="162.29" r="1.6" fill="#fff" stroke="#a040f0" stroke-width="1.05"/>
<circle cx="275.83" cy="164.27" r="1.6" fill="#fff" stroke="#a040f0" stroke-width="1.05"/>
<circle cx="277.80" cy="166.31" r="1.6" fill="#fff" stroke="#a040f0" stroke-width="1.05"/>
<circle cx="279.78" cy="168.40" r="1.6" fill="#fff" stroke="#a040f0" stroke-width="1.05"/>
<circle cx="281.79" cy="170.55" r="1.6" fill="#fff" stroke="#a040f0" stroke-width="1.05"/>
<circle cx="283.83" cy="172.74" r="1.6" fill="#fff" stroke="#a040f0" stroke-width="1.05"/>
<circle cx="285.89" cy="174.95" r="1.6" fill="#fff" stroke="#a040f0" stroke-width="1.05"/>
<circle cx="287.97" cy="177.19" r="1.6" fill="#fff" stroke="#a040f0" stroke-width="1.05"/>
<circle cx="290.08" cy="179.45" r="1.6" fill="#fff" stroke="#a040f0" stroke-width="1.05"/>
<circle cx="292.21" cy="181.73" r="1.6" fill="#fff" stroke="#a040f0" stroke-width="1.05"/>
<circle cx="294.36" cy="184.05" r="1.6" fill="#fff" stroke="#a040f0" stroke-width="1.05"/>
<circle cx="296.55" cy="186.43" r="1.6" fill="#fff" stroke="#a040f0" stroke-width="1.05"/>
<circle cx="298.76" cy="188.87" r="1.6" fill="#fff" stroke="#a040f0" stroke-width="1.05"/>
<circle cx="300.99" cy="191.31" r="1.6" fill="#fff" stroke="#a040f0" stroke-width="1.05"/>
<circle cx="303.26" cy="193.76" r="1.6" fill="#fff" stroke="#a040f0" stroke-width="1.05"/>
<circle cx="305.55" cy="196.25" r="1.6" fill="#fff" stroke="#a040f0" stroke-width="1.05"/>
<circle cx="307.86" cy="198.78" r="1.6" fill="#fff" stroke="#a040f0" stroke-width="1.05"/>
<circle cx="310.21" cy="201.37" r="1.6" fill="#fff" stroke="#a040f0" stroke-width="1.05"/>
<circle cx="312.59" cy="204.02" r="1.6" fill="#fff" stroke="#a040f0" stroke-width="1.05"/>
<circle cx="315.00" cy="206.71" r="1.6" fill="#fff" stroke="#a040f0" stroke-width="1.05"/>
<circle cx="317.43" cy="209.38" r="1.6" fill="#fff" stroke="#a040f0" stroke-width="1.05"/>
<circle cx="319.90" cy="212.08" r="1.6" fill="#fff" stroke="#a040f0" stroke-width="1.05"/>
<circle cx="322.40" cy="214.85" r="1.6" fill="#fff" stroke="#a040f0" stroke-width="1.05"/>
<circle cx="324.93" cy="217.68" r="1.6" fill="#fff" stroke="#a040f0" stroke-width="1.05"/>
<circle cx="327.50" cy="220.55" r="1.6" fill="#fff" stroke="#a040f0" stroke-width="1.05"/>
<circle cx="222.20" cy="96.21" r="1.6" fill="#fff" stroke="#2038f0" stroke-width="1.05"/>
<circle cx="223.60" cy="97.04" r="1.6" fill="#fff" stroke="#2038f0" stroke-width="1.05"/>
<circle cx="225.02" cy="97.89" r="1.6" fill="#fff" stroke="#2038f0" stroke-width="1.05"/>
<circle cx="226.44" cy="98.75" r="1.6" fill="#fff" stroke="#2038f0" stroke-width="1.05"/>
<circle cx="227.89" cy="99.62" r="1.6" fill="#fff" stroke="#2038f0" stroke-width="1.05"/>
<circle cx="229.34" cy="100.52" r="1.6" fill="#fff" stroke="#2038f0" stroke-width="1.05"/>
<circle cx="230.81" cy="101.43" r="1.6" fill="#fff" stroke="#2038f0" stroke-width="1.05"/>
<circle cx="232.30" cy="102.36" r="1.6" fill="#fff" stroke="#2038f0" stroke-width="1.05"/>
<circle cx="233.80" cy="103.31" r="1.6" fill="#fff" stroke="#2038f0" stroke-width="1.05"/>
<circle cx="235.31" cy="104.27" r="1.6" fill="#fff" stroke="#2038f0" stroke-width="1.05"/>
<circle cx="236.84" cy="105.25" r="1.6" fill="#fff" stroke="#2038f0" stroke-width="1.05"/>
<circle cx="238.39" cy="106.26" r="1.6" fill="#fff" stroke="#2038f0" stroke-width="1.05"/>
<circle cx="239.95" cy="107.28" r="1.6" fill="#fff" stroke="#2038f0" stroke-width="1.05"/>
<circle cx="241.53" cy="108.32" r="1.6" fill="#fff" stroke="#2038f0" stroke-width="1.05"/>
<circle cx="243.12" cy="109.39" r="1.6" fill="#fff" stroke="#2038f0" stroke-width="1.05"/>
<circle cx="244.73" cy="110.48" r="1.6" fill="#fff" stroke="#2038f0" stroke-width="1.05"/>
<circle cx="246.36" cy="111.59" r="1.6" fill="#fff" stroke="#2038f0" stroke-width="1.05"/>
<circle cx="248.00" cy="112.72" r="1.6" fill="#fff" stroke="#2038f0" stroke-width="1.05"/>
<circle cx="249.66" cy="113.88" r="1.6" fill="#fff" stroke="#2038f0" stroke-width="1.05"/>
<circle cx="251.34" cy="115.06" r="1.6" fill="#fff" stroke="#2038f0" stroke-width="1.05"/>
<circle cx="253.03" cy="116.27" r="1.6" fill="#fff" stroke="#2038f0" stroke-width="1.05"/>
<circle cx="254.75" cy="117.50" r="1.6" fill="#fff" stroke="#2038f0" stroke-width="1.05"/>
<circle cx="256.48" cy="118.75" r="1.6" fill="#fff" stroke="#2038f0" stroke-width="1.05"/>
<circle cx="258.23" cy="120.04" r="1.6" fill="#fff" stroke="#2038f0" stroke-width="1.05"/>
<circle cx="260.00" cy="121.36" r="1.6" fill="#fff" stroke="#2038f0" stroke-width="1.05"/>
<circle cx="261.78" cy="122.70" r="1.6" fill="#fff" stroke="#2038f0" stroke-width="1.05"/>
<circle cx="263.59" cy="124.08" r="1.6" fill="#fff" stroke="#2038f0" stroke-width="1.05"/>
<circle cx="265.42" cy="125.48" r="1.6" fill="#fff" stroke="#2038f0" stroke-width="1.05"/>
<circle cx="267.27" cy="126.92" r="1.6" fill="#fff" stroke="#2038f0" stroke-width="1.05"/>
<circle cx="269.13" cy="128.39" r="1.6" fill="#fff" stroke="#2038f0" stroke-width="1.05"/>
<circle cx="271.02" cy="129.90" r="1.6" fill="#fff" stroke="#2038f0" stroke-width="1.05"/>
<circle cx="272.93" cy="131.43" r="1.6" fill="#fff" stroke="#2038f0" stroke-width="1.05"/>
<circle cx="274.86" cy="133.01" r="1.6" fill="#fff" stroke="#2038f0" stroke-width="1.05"/>
<circle cx="276.82" cy="134.62" r="1.6" fill="#fff" stroke="#2038f0" stroke-width="1.05"/>
<circle cx="278.79" cy="136.28" r="1.6" fill="#fff" stroke="#2038f0" stroke-width="1.05"/>
<circle cx="280.79" cy="137.97" r="1.6" fill="#fff" stroke="#2038f0" stroke-width="1.05"/>
<circle cx="282.81" cy="139.70" r="1.6" fill="#fff" stroke="#2038f0" stroke-width="1.05"/>
<circle cx="284.85" cy="141.47" r="1.6" fill="#fff" stroke="#2038f0" stroke-width="1.05"/>
<circle cx="286.92" cy="143.29" r="1.6" fill="#fff" stroke="#2038f0" stroke-width="1.05"/>
<circle cx="289.01" cy="145.15" r="1.6" fill="#fff" stroke="#2038f0" stroke-width="1.05"/>
<circle cx="291.13" cy="147.06" r="1.6" fill="#fff" stroke="#2038f0" stroke-width="1.05"/>
<circle cx="293.27" cy="149.03" r="1.6" fill="#fff" stroke="#2038f0" stroke-width="1.05"/>
<circle cx="295.44" cy="151.04" r="1.6" fill="#fff" stroke="#2038f0" stroke-width="1.05"/>
<circle cx="297.63" cy="153.09" r="1.6" fill="#fff" stroke="#2038f0" stroke-width="1.05"/>
<circle cx="299.85" cy="155.21" r="1.6" fill="#fff" stroke="#2038f0" stroke-width="1.05"/>
<circle cx="302.10" cy="157.44" r="1.6" fill="#fff" stroke="#2038f0" stroke-width="1.05"/>
<circle cx="304.37" cy="159.76" r="1.6" fill="#fff" stroke="#2038f0" stroke-width="1.05"/>
<circle cx="306.68" cy="162.12" r="1.6" fill="#fff" stroke="#2038f0" stroke-width="1.05"/>
<circle cx="309.01" cy="164.54" r="1.6" fill="#fff" stroke="#2038f0" stroke-width="1.05"/>
<circle cx="311.37" cy="167.02" r="1.6" fill="#fff" stroke="#2038f0" stroke-width="1.05"/>
<circle cx="313.75" cy="169.57" r="1.6" fill="#fff" stroke="#2038f0" stroke-width="1.05"/>
<circle cx="316.17" cy="172.20" r="1.6" fill="#fff" stroke="#2038f0" stroke-width="1.05"/>
<circle cx="318.62" cy="174.89" r="1.6" fill="#fff" stroke="#2038f0" stroke-width="1.05"/>
<circle cx="321.10" cy="177.66" r="1.6" fill="#fff" stroke="#2038f0" stroke-width="1.05"/>
<circle cx="323.62" cy="180.50" r="1.6" fill="#fff" stroke="#2038f0" stroke-width="1.05"/>
<circle cx="326.16" cy="183.38" r="1.6" fill="#fff" stroke="#2038f0" stroke-width="1.05"/>
<circle cx="328.74" cy="186.30" r="1.6" fill="#fff" stroke="#2038f0" stroke-width="1.05"/>
<circle cx="331.35" cy="189.30" r="1.6" fill="#fff" stroke="#2038f0" stroke-width="1.05"/>
<circle cx="334.00" cy="192.40" r="1.6" fill="#fff" stroke="#2038f0" stroke-width="1.05"/>
<circle cx="226.50" cy="88.75" r="1.6" fill="#fff" stroke="#c80c2c" stroke-width="1.05"/>
<circle cx="227.94" cy="89.08" r="1.6" fill="#fff" stroke="#c80c2c" stroke-width="1.05"/>
<circle cx="229.40" cy="89.43" r="1.6" fill="#fff" stroke="#c80c2c" stroke-width="1.05"/>
<circle cx="230.87" cy="89.81" r="1.6" fill="#fff" stroke="#c80c2c" stroke-width="1.05"/>
<circle cx="232.35" cy="90.21" r="1.6" fill="#fff" stroke="#c80c2c" stroke-width="1.05"/>
<circle cx="233.85" cy="90.65" r="1.6" fill="#fff" stroke="#c80c2c" stroke-width="1.05"/>
<circle cx="235.37" cy="91.10" r="1.6" fill="#fff" stroke="#c80c2c" stroke-width="1.05"/>
<circle cx="236.90" cy="91.59" r="1.6" fill="#fff" stroke="#c80c2c" stroke-width="1.05"/>
<circle cx="238.44" cy="92.10" r="1.6" fill="#fff" stroke="#c80c2c" stroke-width="1.05"/>
<circle cx="240.00" cy="92.64" r="1.6" fill="#fff" stroke="#c80c2c" stroke-width="1.05"/>
<circle cx="241.58" cy="93.21" r="1.6" fill="#fff" stroke="#c80c2c" stroke-width="1.05"/>
<circle cx="243.17" cy="93.81" r="1.6" fill="#fff" stroke="#c80c2c" stroke-width="1.05"/>
<circle cx="244.78" cy="94.44" r="1.6" fill="#fff" stroke="#c80c2c" stroke-width="1.05"/>
<circle cx="246.41" cy="95.10" r="1.6" fill="#fff" stroke="#c80c2c" stroke-width="1.05"/>
<circle cx="248.05" cy="95.79" r="1.6" fill="#fff" stroke="#c80c2c" stroke-width="1.05"/>
<circle cx="249.71" cy="96.50" r="1.6" fill="#fff" stroke="#c80c2c" stroke-width="1.05"/>
<circle cx="251.38" cy="97.25" r="1.6" fill="#fff" stroke="#c80c2c" stroke-width="1.05"/>
<circle cx="253.08" cy="98.02" r="1.6" fill="#fff" stroke="#c80c2c" stroke-width="1.05"/>
<circle cx="254.79" cy="98.83" r="1.6" fill="#fff" stroke="#c80c2c" stroke-width="1.05"/>
<circle cx="256.52" cy="99.67" r="1.6" fill="#fff" stroke="#c80c2c" stroke-width="1.05"/>
<circle cx="258.27" cy="100.53" r="1.6" fill="#fff" stroke="#c80c2c" stroke-width="1.05"/>
<circle cx="260.04" cy="101.43" r="1.6" fill="#fff" stroke="#c80c2c" stroke-width="1.05"/>
<circle cx="261.83" cy="102.36" r="1.6" fill="#fff" stroke="#c80c2c" stroke-width="1.05"/>
<circle cx="263.63" cy="103.31" r="1.6" fill="#fff" stroke="#c80c2c" stroke-width="1.05"/>
<circle cx="265.46" cy="104.30" r="1.6" fill="#fff" stroke="#c80c2c" stroke-width="1.05"/>
<circle cx="267.30" cy="105.32" r="1.6" fill="#fff" stroke="#c80c2c" stroke-width="1.05"/>
<circle cx="269.17" cy="106.37" r="1.6" fill="#fff" stroke="#c80c2c" stroke-width="1.05"/>
<circle cx="271.06" cy="107.45" r="1.6" fill="#fff" stroke="#c80c2c" stroke-width="1.05"/>
<circle cx="272.97" cy="108.56" r="1.6" fill="#fff" stroke="#c80c2c" stroke-width="1.05"/>
<circle cx="274.90" cy="109.70" r="1.6" fill="#fff" stroke="#c80c2c" stroke-width="1.05"/>
<circle cx="276.85" cy="110.87" r="1.6" fill="#fff" stroke="#c80c2c" stroke-width="1.05"/>
<circle cx="278.82" cy="112.07" r="1.6" fill="#fff" stroke="#c80c2c" stroke-width="1.05"/>
<circle cx="280.82" cy="113.30" r="1.6" fill="#fff" stroke="#c80c2c" stroke-width="1.05"/>
<circle cx="282.84" cy="114.55" r="1.6" fill="#fff" stroke="#c80c2c" stroke-width="1.05"/>
<circle cx="284.88" cy="115.84" r="1.6" fill="#fff" stroke="#c80c2c" stroke-width="1.05"/>
<circle cx="286.95" cy="117.16" r="1.6" fill="#fff" stroke="#c80c2c" stroke-width="1.05"/>
<circle cx="289.04" cy="118.51" r="1.6" fill="#fff" stroke="#c80c2c" stroke-width="1.05"/>
<circle cx="291.16" cy="119.84" r="1.6" fill="#fff" stroke="#c80c2c" stroke-width="1.05"/>
<circle cx="293.30" cy="121.16" r="1.6" fill="#fff" stroke="#c80c2c" stroke-width="1.05"/>
<circle cx="295.46" cy="122.50" r="1.6" fill="#fff" stroke="#c80c2c" stroke-width="1.05"/>
<circle cx="297.66" cy="123.87" r="1.6" fill="#fff" stroke="#c80c2c" stroke-width="1.05"/>
<circle cx="299.87" cy="125.26" r="1.6" fill="#fff" stroke="#c80c2c" stroke-width="1.05"/>
<circle cx="302.12" cy="126.68" r="1.6" fill="#fff" stroke="#c80c2c" stroke-width="1.05"/>
<circle cx="304.39" cy="128.12" r="1.6" fill="#fff" stroke="#c80c2c" stroke-width="1.05"/>
<circle cx="306.69" cy="129.58" r="1.6" fill="#fff" stroke="#c80c2c" stroke-width="1.05"/>
<circle cx="309.02" cy="131.05" r="1.6" fill="#fff" stroke="#c80c2c" stroke-width="1.05"/>
<circle cx="311.38" cy="132.59" r="1.6" fill="#fff" stroke="#c80c2c" stroke-width="1.05"/>
<circle cx="313.77" cy="134.20" r="1.6" fill="#fff" stroke="#c80c2c" stroke-width="1.05"/>
<circle cx="316.19" cy="135.82" r="1.6" fill="#fff" stroke="#c80c2c" stroke-width="1.05"/>
<circle cx="318.63" cy="137.45" r="1.6" fill="#fff" stroke="#c80c2c" stroke-width="1.05"/>
<circle cx="321.11" cy="139.08" r="1.6" fill="#fff" stroke="#c80c2c" stroke-width="1.05"/>
<circle cx="323.62" cy="140.73" r="1.6" fill="#fff" stroke="#c80c2c" stroke-width="1.05"/>
<circle cx="326.17" cy="142.39" r="1.6" fill="#fff" stroke="#c80c2c" stroke-width="1.05"/>
<circle cx="328.74" cy="144.06" r="1.6" fill="#fff" stroke="#c80c2c" stroke-width="1.05"/>
<circle cx="331.36" cy="145.72" r="1.6" fill="#fff" stroke="#c80c2c" stroke-width="1.05"/>
<circle cx="334.00" cy="147.39" r="1.6" fill="#fff" stroke="#c80c2c" stroke-width="1.05"/>
<line x1="337.2" y1="191" x2="337.2" y2="249.5" stroke="#2a3cf5" stroke-width="0.7" stroke-dasharray="1.2 1.6" opacity="0.8"/>
<circle cx="224.00" cy="202.20" r="1.7" fill="#fff" stroke="#000" stroke-width="0.95"/>
<circle cx="225.42" cy="203.75" r="1.7" fill="#fff" stroke="#000" stroke-width="0.95"/>
<circle cx="226.86" cy="205.32" r="1.7" fill="#fff" stroke="#000" stroke-width="0.95"/>
<circle cx="228.92" cy="206.79" r="1.7" fill="#fff" stroke="#000" stroke-width="0.95"/>
<circle cx="231.20" cy="208.13" r="1.7" fill="#fff" stroke="#000" stroke-width="0.95"/>
<circle cx="234.15" cy="209.62" r="1.7" fill="#fff" stroke="#000" stroke-width="0.95"/>
<circle cx="235.58" cy="212.60" r="1.7" fill="#fff" stroke="#000" stroke-width="0.95"/>
<circle cx="237.79" cy="213.82" r="1.7" fill="#fff" stroke="#000" stroke-width="0.95"/>
<circle cx="240.05" cy="214.99" r="1.7" fill="#fff" stroke="#000" stroke-width="0.95"/>
<circle cx="242.16" cy="216.73" r="1.7" fill="#fff" stroke="#000" stroke-width="0.95"/>
<circle cx="244.44" cy="218.46" r="1.7" fill="#fff" stroke="#000" stroke-width="0.95"/>
<circle cx="246.70" cy="217.29" r="1.7" fill="#fff" stroke="#000" stroke-width="0.95"/>
<circle cx="248.56" cy="218.56" r="1.7" fill="#fff" stroke="#000" stroke-width="0.95"/>
<circle cx="250.58" cy="220.02" r="1.7" fill="#fff" stroke="#000" stroke-width="0.95"/>
<circle cx="252.39" cy="221.45" r="1.7" fill="#fff" stroke="#000" stroke-width="0.95"/>
<circle cx="254.11" cy="222.64" r="1.7" fill="#fff" stroke="#000" stroke-width="0.95"/>
<circle cx="254.77" cy="220.72" r="1.7" fill="#fff" stroke="#000" stroke-width="0.95"/>
<circle cx="255.43" cy="219.09" r="1.7" fill="#fff" stroke="#000" stroke-width="0.95"/>
<circle cx="257.24" cy="220.03" r="1.7" fill="#fff" stroke="#000" stroke-width="0.95"/>
<circle cx="259.06" cy="221.55" r="1.7" fill="#fff" stroke="#000" stroke-width="0.95"/>
<circle cx="261.34" cy="222.84" r="1.7" fill="#fff" stroke="#000" stroke-width="0.95"/>
<circle cx="263.57" cy="224.43" r="1.7" fill="#fff" stroke="#000" stroke-width="0.95"/>
<circle cx="265.64" cy="226.06" r="1.7" fill="#fff" stroke="#000" stroke-width="0.95"/>
<circle cx="267.59" cy="227.45" r="1.7" fill="#fff" stroke="#000" stroke-width="0.95"/>
<circle cx="269.48" cy="228.42" r="1.7" fill="#fff" stroke="#000" stroke-width="0.95"/>
<circle cx="271.27" cy="229.58" r="1.7" fill="#fff" stroke="#000" stroke-width="0.95"/>
<circle cx="273.80" cy="230.83" r="1.7" fill="#fff" stroke="#000" stroke-width="0.95"/>
<circle cx="274.74" cy="228.66" r="1.7" fill="#fff" stroke="#000" stroke-width="0.95"/>
<circle cx="275.67" cy="226.46" r="1.7" fill="#fff" stroke="#000" stroke-width="0.95"/>
<circle cx="277.41" cy="227.38" r="1.7" fill="#fff" stroke="#000" stroke-width="0.95"/>
<circle cx="279.12" cy="228.14" r="1.7" fill="#fff" stroke="#000" stroke-width="0.95"/>
<circle cx="281.24" cy="229.15" r="1.7" fill="#fff" stroke="#000" stroke-width="0.95"/>
<circle cx="283.55" cy="230.01" r="1.7" fill="#fff" stroke="#000" stroke-width="0.95"/>
<circle cx="285.78" cy="230.84" r="1.7" fill="#fff" stroke="#000" stroke-width="0.95"/>
<circle cx="287.97" cy="231.73" r="1.7" fill="#fff" stroke="#000" stroke-width="0.95"/>
<circle cx="289.79" cy="232.72" r="1.7" fill="#fff" stroke="#000" stroke-width="0.95"/>
<circle cx="291.52" cy="233.59" r="1.7" fill="#fff" stroke="#000" stroke-width="0.95"/>
<circle cx="293.36" cy="235.36" r="1.7" fill="#fff" stroke="#000" stroke-width="0.95"/>
<circle cx="294.91" cy="237.07" r="1.7" fill="#fff" stroke="#000" stroke-width="0.95"/>
<circle cx="296.72" cy="239.64" r="1.7" fill="#fff" stroke="#000" stroke-width="0.95"/>
<circle cx="298.44" cy="242.77" r="1.7" fill="#fff" stroke="#000" stroke-width="0.95"/>
<circle cx="299.78" cy="241.16" r="1.7" fill="#fff" stroke="#000" stroke-width="0.95"/>
<circle cx="301.20" cy="239.77" r="1.7" fill="#fff" stroke="#000" stroke-width="0.95"/>
</svg>
</body></html>
